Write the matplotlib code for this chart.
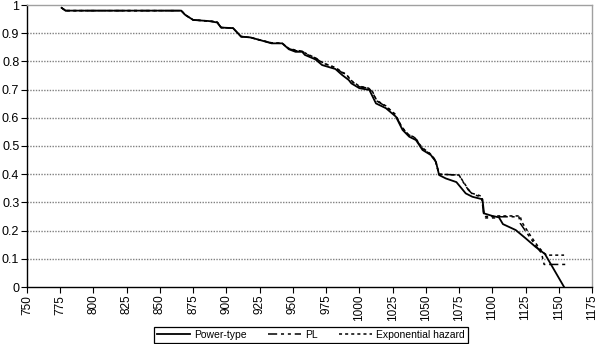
import numpy as np
import matplotlib
matplotlib.use('Agg')
import matplotlib.pyplot as plt

plt.rcParams['font.family'] = ['Liberation Sans', 'DejaVu Sans']

# power-type curve
pt_x = [776, 779, 866, 869, 875, 887, 893, 896, 905, 911, 918, 925, 934, 942, 947, 952,
        957, 959, 967, 972, 982, 987, 992, 994, 1000, 1007.5, 1012.5, 1020, 1027.5, 1032.5,
        1037.5, 1042.6, 1047.5, 1053.8, 1057.6, 1060, 1065, 1073, 1080, 1085, 1092.6,
        1093.8, 1100, 1105, 1108, 1117.6, 1125, 1132.6, 1139.6, 1154]
pt_y = [0.99, 0.98, 0.98, 0.965, 0.947, 0.943, 0.938, 0.92, 0.918, 0.888, 0.885, 0.876,
        0.864, 0.864, 0.843, 0.834, 0.834, 0.823, 0.807, 0.787, 0.773, 0.752, 0.734, 0.722,
        0.705, 0.699, 0.651, 0.634, 0.604, 0.557, 0.533, 0.521, 0.486, 0.468, 0.444, 0.397,
        0.385, 0.372, 0.332, 0.32, 0.311, 0.261, 0.252, 0.247, 0.223, 0.202, 0.173, 0.142,
        0.117, 0.0]

# PL curve
pl_x = [776, 779, 866, 869, 875, 887, 893, 896, 905, 911, 918, 925, 934, 942, 947, 952,
        957, 960, 967, 972, 975, 982, 987, 990, 994, 1000, 1007, 1010, 1013, 1020, 1027,
        1032, 1037, 1042, 1047, 1053, 1057, 1060, 1075, 1077, 1082, 1085, 1092, 1093.5,
        1095, 1102, 1104, 1120, 1121, 1128, 1133, 1137, 1139, 1156]
pl_y = [0.99, 0.98, 0.98, 0.965, 0.947, 0.943, 0.94, 0.92, 0.918, 0.888, 0.885, 0.876,
        0.865, 0.864, 0.845, 0.838, 0.836, 0.826, 0.812, 0.795, 0.79, 0.778, 0.76, 0.755,
        0.73, 0.71, 0.705, 0.69, 0.66, 0.64, 0.612, 0.565, 0.54, 0.528, 0.493, 0.472, 0.45,
        0.40, 0.397, 0.38, 0.344, 0.33, 0.318, 0.26, 0.245, 0.245, 0.249, 0.249, 0.226,
        0.178, 0.145, 0.12, 0.08, 0.08]

# exponential hazard curve
ex_x = [776, 779, 866, 869, 875, 887, 893, 896, 905, 911, 918, 925, 934, 942, 947, 952,
        957, 960, 967, 972, 975, 982, 987, 990, 994, 1000, 1007, 1010, 1013, 1020, 1027,
        1032, 1037, 1042, 1047, 1053, 1057, 1060, 1075, 1077, 1082, 1085, 1092, 1093.5,
        1095, 1102, 1104, 1121, 1122, 1129, 1135, 1139, 1141, 1154]
ex_y = [0.99, 0.98, 0.98, 0.965, 0.947, 0.943, 0.94, 0.92, 0.918, 0.888, 0.885, 0.876,
        0.866, 0.864, 0.846, 0.84, 0.836, 0.828, 0.812, 0.797, 0.79, 0.778, 0.762, 0.755,
        0.732, 0.712, 0.705, 0.692, 0.662, 0.642, 0.612, 0.567, 0.54, 0.53, 0.495, 0.474,
        0.452, 0.40, 0.397, 0.382, 0.346, 0.332, 0.322, 0.262, 0.25, 0.25, 0.252, 0.252,
        0.232, 0.18, 0.14, 0.12, 0.113, 0.113]

x_ticks = list(range(750, 1176, 25))
y_ticks = [0, 0.1, 0.2, 0.3, 0.4, 0.5, 0.6, 0.7, 0.8, 0.9, 1]
y_labels = ['0', '0.1', '0.2', '0.3', '0.4', '0.5', '0.6', '0.7', '0.8', '0.9', '1']

fig = plt.figure(figsize=(5.98, 3.44), dpi=100)
ax = fig.add_axes([27/598, 1-287/344, (592-27)/598, (287-5)/344])

l1, = ax.plot(pt_x, pt_y, color='black', lw=1.3, label='Power-type', zorder=4)
l2, = ax.plot(pl_x, pl_y, color='black', lw=1.1, linestyle=(0, (6, 2.5, 2, 2.5, 2, 2.5)),
              label='PL', zorder=3)
l3, = ax.plot(ex_x, ex_y, color='black', lw=1.1, linestyle=(0, (2, 2)),
              label='Exponential hazard', zorder=3)

ax.set_xlim(750, 1175)
ax.set_ylim(0, 1)
ax.set_xticks(x_ticks)
ax.set_xticklabels([str(t) for t in x_ticks], rotation=90, fontsize=8.5)
ax.set_yticks(y_ticks)
ax.set_yticklabels(y_labels, fontsize=9)
ax.tick_params(direction='out', length=4, width=0.8, pad=1.5)

# dotted horizontal gridlines
for yv in y_ticks[1:-1]:
    ax.axhline(yv, color='#808080', lw=1.0, linestyle=(0, (1, 1)), zorder=1)

ax.spines['left'].set_color('black')
ax.spines['bottom'].set_color('black')
ax.spines['top'].set_color('#a0a0a0')
ax.spines['right'].set_color('#a0a0a0')
for s in ax.spines.values():
    s.set_linewidth(1.0)

leg = fig.legend(handles=[l1, l2, l3], loc='center', bbox_to_anchor=(311/598, 1-335/344),
                 ncol=3, fontsize=7.5, frameon=True, fancybox=False, framealpha=1,
                 edgecolor='black', handlelength=3.2, handletextpad=0.4, columnspacing=2.0,
                 borderpad=0.25)
leg.get_frame().set_linewidth(0.9)

fig.savefig('out.png', dpi=100)
